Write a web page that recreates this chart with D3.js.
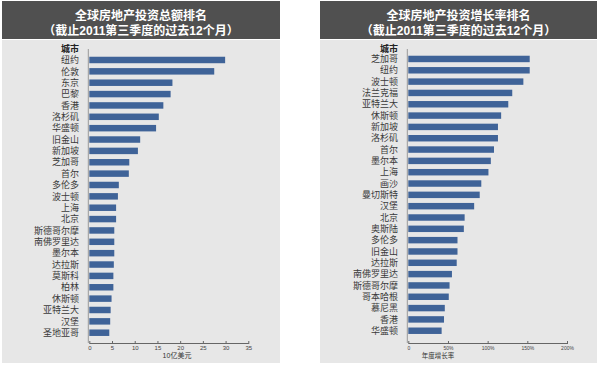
<!DOCTYPE html>
<html>
<head>
<meta charset="utf-8">
<script src="https://cdn.jsdelivr.net/npm/d3@7"></script>
<style>
  body { margin: 0; background: #fff; }
  svg { display: block; font-family: "Liberation Sans", "Noto Sans CJK SC", sans-serif; }
</style>
</head>
<body>
<div id="chart"></div>
<script>
// left chart: total investment (10亿美元)
var totalCities = ["纽约", "伦敦", "东京", "巴黎", "香港", "洛杉矶", "华盛顿", "旧金山", "新加坡", "芝加哥",
  "首尔", "多伦多", "波士顿", "上海", "北京", "斯德哥尔摩", "南佛罗里达", "墨尔本", "达拉斯", "莫斯科",
  "柏林", "休斯顿", "亚特兰大", "汉堡", "圣地亚哥"];
var totalValues = [29.9, 27.5, 18.3, 17.9, 16.3, 15.3, 14.7, 11.2, 10.7, 8.8,
  8.7, 6.5, 6.3, 5.9, 5.9, 5.5, 5.5, 5.5, 5.4, 5.3,
  5.3, 4.9, 4.7, 4.6, 4.4];
var totalTicks = [0, 5, 10, 15, 20, 25, 30, 35];

// right chart: annual growth (%)
var growthCities = ["芝加哥", "纽约", "波士顿", "法兰克福", "亚特兰大", "休斯顿", "新加坡", "洛杉矶", "首尔", "墨尔本",
  "上海", "画沙", "曼切斯特", "汉堡", "北京", "奥斯陆", "多伦多", "旧金山", "达拉斯", "南佛罗里达",
  "斯德哥尔摩", "哥本哈根", "慕尼黑", "香港", "华盛顿"];
var growthValues = [153, 153, 145, 131, 126, 117, 113, 113, 108, 104,
  101, 92, 90, 83, 71, 70, 62, 62, 61, 55,
  52, 51, 46, 45, 42];
var growthTicks = [0, 50, 100, 150, 200];

var width = 600, height = 366;
var barColor = "#3f6398";

var svg = d3.select("#chart").append("svg")
  .attr("width", width)
  .attr("height", height);

// draw one panel
function makePanel(opt) {
  var g = svg.append("g");

  // gray background + dark title box
  g.append("rect")
    .attr("x", opt.left).attr("y", 40)
    .attr("width", opt.right - opt.left).attr("height", 323)
    .attr("fill", "#e7e7e7");
  g.append("rect")
    .attr("x", opt.left).attr("y", 1)
    .attr("width", opt.right - opt.left).attr("height", 38)
    .attr("fill", "#505050");

  var cx = (opt.left + opt.right) / 2;
  g.append("text").attr("x", cx).attr("y", 20)
    .attr("text-anchor", "middle").attr("fill", "#fff")
    .attr("font-size", "12px").attr("font-weight", "bold")
    .text(opt.title1);
  g.append("text").attr("x", cx).attr("y", 35)
    .attr("text-anchor", "middle").attr("fill", "#fff")
    .attr("font-size", "12px").attr("font-weight", "bold")
    .text(opt.title2);

  var x = d3.scaleLinear().domain(opt.domain).range(opt.xRange);
  var y = d3.scaleBand().domain(opt.cities).range(opt.yRange)
    .paddingInner(0.43).paddingOuter(0.215);

  // bars
  g.selectAll(".bar")
    .data(opt.values)
    .enter().append("rect")
    .attr("class", "bar")
    .attr("x", x(0))
    .attr("y", function (d, i) { return y(opt.cities[i]); })
    .attr("width", function (d) { return x(d) - x(0); })
    .attr("height", y.bandwidth())
    .attr("fill", barColor);

  // city labels
  g.selectAll(".lab")
    .data(opt.cities)
    .enter().append("text")
    .attr("class", "lab")
    .attr("x", opt.labelX)
    .attr("y", function (d) { return y(d) + y.bandwidth() / 2 + 3.2; })
    .attr("text-anchor", "end")
    .attr("font-size", "9px")
    .attr("fill", "#3a3a3a")
    .text(function (d) { return d; });

  g.append("text")
    .attr("x", opt.labelX).attr("y", 51.5)
    .attr("text-anchor", "end")
    .attr("font-size", "9px").attr("font-weight", "bold")
    .attr("fill", "#222")
    .text("城市");

  // vertical axis line
  g.append("line")
    .attr("x1", x(0) - 1).attr("x2", x(0) - 1)
    .attr("y1", 49).attr("y2", 343)
    .attr("stroke", "#999").attr("stroke-width", 1);

  // x axis
  var axis = g.append("g")
    .attr("transform", "translate(0,343)")
    .call(d3.axisBottom(x)
      .tickValues(opt.ticks)
      .tickSizeInner(-3)
      .tickSizeOuter(0)
      .tickPadding(3)
      .tickFormat(opt.fmt));
  axis.select(".domain").attr("stroke", "#666");
  axis.selectAll(".tick line").attr("stroke", "#666").attr("transform", "translate(0,1)");
  axis.selectAll(".tick text")
    .attr("font-size", opt.tickFont).attr("fill", "#444")
    .attr("font-family", "Liberation Sans, sans-serif");

  g.append("text")
    .attr("x", opt.titleX).attr("y", 358)
    .attr("text-anchor", "middle")
    .attr("font-size", opt.axisFont).attr("fill", "#333")
    .text(opt.axisTitle);
}

makePanel({
  left: 2, right: 280,
  title1: "全球房地产投资总额排名",
  title2: "（截止2011第三季度的过去12个月）",
  cities: totalCities, values: totalValues, ticks: totalTicks,
  domain: [0, 35], xRange: [89.3, 248.3],
  yRange: [54.3, 338.4],
  labelX: 79,
  fmt: function (d) { return d; },
  tickFont: "6px", axisFont: "7px",
  axisTitle: "10亿美元", titleX: 177
});

makePanel({
  left: 320, right: 597,
  title1: "全球房地产投资增长率排名",
  title2: "（截止2011第三季度的过去12个月）",
  cities: growthCities, values: growthValues, ticks: growthTicks,
  domain: [0, 200], xRange: [408.3, 567],
  yRange: [53.3, 336.4],
  labelX: 398,
  fmt: function (d) { return d === 0 ? "0" : d + "%"; },
  tickFont: "5px", axisFont: "6.5px",
  axisTitle: "年度增长率", titleX: 438
});
</script>
</body>
</html>
